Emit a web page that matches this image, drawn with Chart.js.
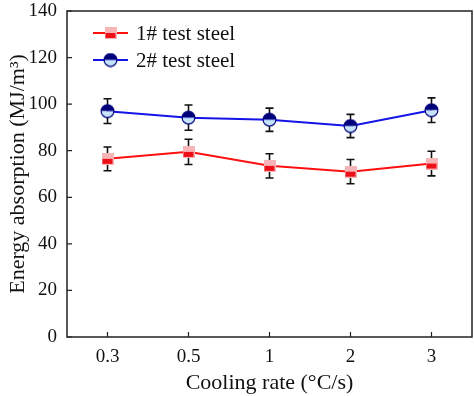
<!DOCTYPE html>
<html>
<head>
<meta charset="utf-8">
<script src="https://cdn.jsdelivr.net/npm/chart.js@4/dist/chart.umd.min.js"></script>
<style>
html,body{margin:0;padding:0;background:#fff;}
#wrap{width:474px;height:396px;position:relative;}
</style>
</head>
<body>
<div id="wrap"><canvas id="c" width="474" height="396"></canvas></div>
<script>
const categories = ['0.3', '0.5', '1', '2', '3'];
const steel1 = [76.5, 79.5, 73.5, 71.0, 74.5];
const steel1Err = [5.1, 5.4, 5.2, 5.2, 5.3];
const steel2 = [97.0, 94.2, 93.3, 90.6, 97.4];
const steel2Err = [5.3, 5.4, 5.0, 5.0, 5.3];
const seriesNames = ['1# test steel', '2# test steel'];
const yMin = 0, yMax = 140, yStep = 20;
const xTitle = 'Cooling rate (°C/s)';
const yTitle = 'Energy absorption (MJ/m³)';

const FONT = "'Liberation Serif', 'Times New Roman', serif";

function squareMarker() {
  const s = 12, c = document.createElement('canvas');
  c.width = s; c.height = s;
  const g = c.getContext('2d');
  g.fillStyle = '#f6b4b6';
  g.fillRect(0, 0, s, s);
  g.fillStyle = '#ee1018';
  g.fillRect(1, s / 2, s - 2, s / 2 - 1);
  return c;
}
function circleMarker() {
  const s = 15, c = document.createElement('canvas');
  c.width = s; c.height = s;
  const g = c.getContext('2d');
  const r = 6.4, cx = s / 2, cy = s / 2;
  g.beginPath(); g.arc(cx, cy, r, Math.PI, 0); g.closePath();
  g.fillStyle = '#00007a'; g.fill();
  g.beginPath(); g.arc(cx, cy, r, 0, Math.PI); g.closePath();
  g.fillStyle = '#c6e4fb'; g.fill();
  g.beginPath(); g.arc(cx, cy, r, 0, 2 * Math.PI);
  g.lineWidth = 1.2; g.strokeStyle = '#00007a'; g.stroke();
  return c;
}
const mk1 = squareMarker();
const mk2 = circleMarker();

const decor = {
  id: 'decor',
  beforeDatasetsDraw(chart) {
    const ctx = chart.ctx, xs = chart.scales.x, ys = chart.scales.y;
    const errs = [steel1Err, steel2Err];
    ctx.save();
    ctx.strokeStyle = '#111';
    ctx.lineWidth = 1.6;
    chart.data.datasets.forEach((ds, di) => {
      ds.data.forEach((v, i) => {
        const x = xs.getPixelForValue(i);
        const yt = ys.getPixelForValue(v + errs[di][i]);
        const yb = ys.getPixelForValue(v - errs[di][i]);
        ctx.beginPath();
        ctx.moveTo(x, yt); ctx.lineTo(x, yb);
        ctx.moveTo(x - 4, yt); ctx.lineTo(x + 4, yt);
        ctx.moveTo(x - 4, yb); ctx.lineTo(x + 4, yb);
        ctx.stroke();
      });
    });
    ctx.restore();
  },
  afterDraw(chart) {
    const ctx = chart.ctx, a = chart.chartArea;
    const xs = chart.scales.x, ys = chart.scales.y;
    ctx.save();
    ctx.strokeStyle = '#222';
    ctx.lineWidth = 1.5;
    ctx.strokeRect(a.left, a.top, a.right - a.left, a.bottom - a.top);
    ctx.beginPath();
    ys.ticks.forEach(t => {
      const y = ys.getPixelForValue(t.value);
      ctx.moveTo(a.left, y); ctx.lineTo(a.left + 5, y);
    });
    categories.forEach((c, i) => {
      const x = xs.getPixelForValue(i);
      ctx.moveTo(x, a.bottom); ctx.lineTo(x, a.bottom - 5);
    });
    ctx.lineWidth = 1.2;
    ctx.stroke();
    const rows = [
      {name: seriesNames[0], color: '#ff1010', img: mk1, y: 33},
      {name: seriesNames[1], color: '#1414e6', img: mk2, y: 60}
    ];
    ctx.font = '21px ' + FONT;
    ctx.textBaseline = 'middle';
    ctx.textAlign = 'left';
    rows.forEach(r => {
      ctx.beginPath();
      ctx.moveTo(93, r.y); ctx.lineTo(128, r.y);
      ctx.strokeStyle = r.color; ctx.lineWidth = 2; ctx.stroke();
      ctx.drawImage(r.img, 110.5 - r.img.width / 2, r.y - r.img.height / 2);
      ctx.fillStyle = '#111';
      ctx.fillText(r.name, 136, r.y + 1);
    });
    ctx.restore();
  }
};

new Chart(document.getElementById('c'), {
  type: 'line',
  data: {
    labels: categories,
    datasets: [
      {label: seriesNames[0], data: steel1, borderColor: '#ff1010', borderWidth: 2,
       pointStyle: mk1, pointRadius: 6, tension: 0, fill: false},
      {label: seriesNames[1], data: steel2, borderColor: '#1414e6', borderWidth: 2,
       pointStyle: mk2, pointRadius: 7, tension: 0, fill: false}
    ]
  },
  options: {
    responsive: false,
    animation: false,
    layout: {autoPadding: false, padding: {top: 11, right: 2, left: 0, bottom: 0}},
    plugins: {legend: {display: false}, tooltip: {enabled: false}},
    scales: {
      x: {
        type: 'category',
        offset: true,
        grid: {display: false, drawTicks: false},
        border: {display: false},
        ticks: {color: '#111', font: {family: FONT, size: 19}, padding: 9, maxRotation: 0},
        title: {display: true, text: xTitle, color: '#111',
                font: {family: FONT, size: 22, lineHeight: 1}, padding: {top: 0, bottom: 2}},
        afterFit(s) { s.height = 59; s.paddingLeft = 0; s.paddingRight = 0; }
      },
      y: {
        min: yMin, max: yMax,
        grid: {display: false, drawTicks: false},
        border: {display: false},
        ticks: {stepSize: yStep, color: '#111', font: {family: FONT, size: 19}, padding: 10},
        title: {display: true, text: yTitle, color: '#111',
                font: {family: FONT, size: 22, lineHeight: 1}, padding: {top: 7, bottom: 0}},
        afterFit(s) { s.width = 67; s.paddingTop = 0; s.paddingBottom = 0; }
      }
    }
  },
  plugins: [decor]
});
</script>
</body>
</html>
